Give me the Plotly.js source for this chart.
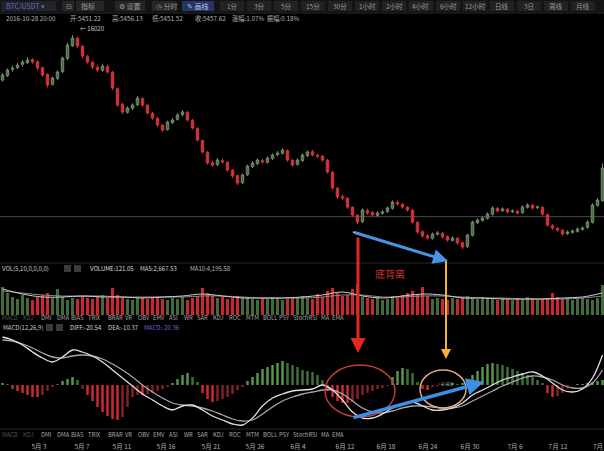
<!DOCTYPE html>
<html><head><meta charset="utf-8">
<script src="https://cdn.plot.ly/plotly-3.0.1.min.js"></script>
<style>html,body{margin:0;padding:0;background:#000;}#chart{width:604px;height:451px;}</style>
</head><body><div id="chart"></div>
<script>
// ---------- data ----------
const openP=[6020,6046,6084,6094,6114,6124,6142,6130,6094,6054,
5994,6030,6070,6150,6226,6270,6222,6160,6126,6096,
6078,6100,6066,5968,5874,5826,5850,5872,5908,5868,
5820,5790,5748,5722,5764,5784,5812,5826,5778,5730,
5656,5586,5524,5512,5536,5526,5478,5446,5404,5452,
5500,5518,5536,5526,5548,5572,5580,5596,5538,5514,
5536,5566,5590,5568,5562,5538,5466,5370,5320,5310,
5256,5208,5170,5236,5224,5208,5220,5230,5250,5286,
5274,5256,5238,5166,5110,5086,5070,5094,5100,5080,
5058,5070,5044,5020,5088,5164,5178,5190,5214,5250,
5236,5244,5230,5232,5224,5256,5268,5254,5256,5212,
5146,5130,5118,5098,5106,5112,5124,5136,5166,5268,
5296];
const closeP=[6050,6080,6092,6110,6128,6140,6128,6092,6050,5990,
6032,6068,6152,6230,6272,6224,6164,6128,6098,6080,
6104,6068,5972,5870,5828,5852,5870,5912,5870,5822,
5792,5750,5720,5768,5780,5810,5828,5780,5732,5660,
5588,5522,5510,5540,5528,5480,5444,5402,5450,5504,
5522,5540,5528,5552,5570,5582,5600,5540,5510,5540,
5570,5588,5570,5564,5540,5468,5372,5318,5312,5258,
5210,5168,5240,5222,5210,5222,5228,5252,5288,5276,
5258,5240,5168,5108,5084,5072,5096,5102,5078,5060,
5072,5042,5018,5090,5168,5180,5192,5216,5252,5234,
5246,5228,5234,5222,5258,5270,5252,5258,5216,5150,
5132,5120,5096,5108,5114,5126,5132,5168,5270,5300,
5492];
const highP=[6062,6090,6106,6122,6140,6158,6150,6138,6100,6060,
6040,6078,6160,6244,6290,6280,6230,6170,6134,6110,
6118,6112,6074,5976,5884,5862,5880,5924,5916,5876,
5830,5798,5756,5776,5792,5822,5840,5834,5786,5736,
5662,5594,5536,5552,5548,5532,5486,5452,5460,5512,
5534,5550,5546,5562,5580,5594,5612,5604,5546,5550,
5580,5598,5600,5578,5570,5546,5474,5378,5332,5318,
5262,5214,5250,5248,5234,5232,5240,5262,5298,5296,
5282,5264,5246,5172,5118,5096,5106,5114,5108,5088,
5082,5078,5050,5098,5176,5190,5202,5226,5262,5258,
5256,5252,5244,5240,5268,5280,5276,5268,5262,5218,
5156,5138,5126,5118,5124,5136,5142,5178,5280,5312,
5520];
const lowP=[6010,6038,6070,6086,6100,6116,6118,6080,6040,5975,
5986,6020,6062,6140,6218,6212,6150,6118,6086,6066,
6070,6060,5960,5858,5816,5818,5840,5862,5860,5812,
5782,5740,5708,5716,5756,5776,5800,5772,5724,5650,
5578,5512,5498,5504,5518,5470,5432,5390,5396,5444,
5492,5508,5518,5518,5540,5562,5572,5530,5500,5506,
5528,5558,5562,5552,5530,5458,5362,5306,5300,5248,
5198,5156,5162,5212,5200,5198,5212,5222,5242,5266,
5248,5230,5158,5098,5074,5062,5062,5086,5068,5050,
5050,5032,5006,5012,5080,5156,5170,5182,5206,5226,
5228,5220,5222,5214,5216,5248,5244,5246,5206,5140,
5122,5110,5086,5090,5098,5104,5116,5128,5158,5260,
5288];
const volume=[28,22,18,16,20,17,15,18,20,22,
17,26,18,15,17,16,19,17,16,18,
20,17,27,20,18,16,15,17,18,16,
17,18,16,15,17,16,18,15,17,19,
27,22,19,17,18,16,17,19,18,17,
16,15,17,16,18,17,15,16,17,18,
19,17,16,21,18,24,27,22,19,20,
26,31,18,17,16,18,15,16,19,17,
20,22,24,20,28,19,16,17,16,15,
17,16,18,19,17,16,18,17,16,15,
17,16,15,17,16,18,17,15,16,17,
22,18,16,17,15,16,17,16,15,17,
30];
const volMA5=[26,21,18,18,19,18,18,17,18,19,21,19,17,17,17,18,20,23,19,17,19,21,20,17,17,16,16,16,17,18,22];
const volMA10=[24,22,20,19,19,19,18,18,18,18,19,19,18,17,17,17,18,20,20,18,18,19,19,18,17,17,16,16,16,17,19];
const macdHist=[2,1,-4,-6,-8,-10,-12,-12,-10,-6,
-2,1,4,6,8,5,-4,-10,-16,-22,
-27,-31,-34,-35,-32,-22,-12,-10,-10,-9,
-8,-6,-4,-2,2,6,10,12,8,3,
-8,-14,-17,-16,-14,-12,-9,-5,-2,4,
8,12,16,18,20,22,24,22,20,18,
15,14,13,10,5,-6,-12,-16,-18,-18,
-17,-14,-10,-8,-6,-4,-3,-1,8,14,
17,16,12,3,-4,-5,-2,-1,1,1,
2,1,2,6,10,14,18,21,22,21,
20,18,16,14,12,10,8,5,2,-8,
-12,-11,-8,-4,0,1,1,2,3,4,
5];
const dif=[48,45,40,33,27,23,28,35,33,29,
23,15,7,-1,-9,-15,-21,-25,-21,-20,
-25,-31,-35,-39,-40,-33,-21,-13,-9,-6,
-5,-4,0,-5,-15,-27,-33,-33,-29,-23,
-19,-17,-21,-25,-25,-23,-18,-10,-5,0,
5,8,11,13,9,2,-5,-7,-4,7,
30];
const dea=[45,44,41,37,32,28,27,29,30,29,
26,21,15,8,0,-7,-13,-18,-20,-21,
-23,-26,-30,-34,-36,-35,-29,-22,-16,-12,
-9,-7,-5,-5,-9,-16,-23,-27,-28,-26,
-23,-21,-21,-22,-23,-23,-21,-16,-11,-6,
-1,3,7,9,8,5,0,-3,-3,2,
15];
const dateTickPos=[7.3,15.9,23.9,32.7,41.7,50.5,59.1,68.5,76.7,85.1,93.5,102.5,111.1,119.1];
const dateTickText=["5月 3","5月 7","5月 11","5月 16","5月 21","5月 26","6月 4","6月 12","6月 18","6月 24","6月 30","7月 6","7月 12","7月"];
const tabLabels=["MACD","KDJ","DMI","DMA","BIAS","TRIX","BRAR","VR","OBV","EMV","ASI","WR","SAR","KDJ","ROC","MTM","BOLL","PSY","StochRSI","MA","EMA"];
const periodLabels=["1分","3分","5分","15分","30分","1小时","2小时","4小时","6小时","12小时","日线","3日","周线","月线"];
const infoTexts=["2016-10-28 20:00","开:5451.22","高:5456.13","低:5451.52","收:5457.62","涨幅:1.07%","振幅:0.18%"];

// ---------- derived ----------
const idx=openP.map((_,i)=>i);
const idxMA=volMA5.map((_,i)=>i*4);
const idxMacd=dif.map((_,i)=>i*2);
const volColors=idx.map(i=>closeP[i]>=openP[i]?'#45683f':'#c62a2e');
const histColors=macdHist.map((v,i)=>{
  const prev=i>0?Math.abs(macdHist[i-1]):0;
  const shrinking=Math.abs(v)<prev;
  if(v>=0) return shrinking?'#3f6e3a':'#56944c';
  return shrinking?'#7e2226':'#cc2a2e';
});

const FONT="Noto Sans CJK SC, Noto Sans, sans-serif";
const W=604,H=451;
const px=x=>x/W, py=y=>1-y/H;

const traces=[
 {type:'candlestick',x:idx,open:openP,high:highP,low:lowP,close:closeP,xaxis:'x',yaxis:'y',
  increasing:{line:{color:'#6f8c6a',width:1},fillcolor:'#4d6d49'},
  decreasing:{line:{color:'#d2333a',width:1},fillcolor:'#d2333a'},
  whiskerwidth:0,hoverinfo:'skip'},
 {type:'bar',x:idx,y:volume,xaxis:'x',yaxis:'y2',marker:{color:volColors},width:0.62,hoverinfo:'skip'},
 {type:'scatter',mode:'lines',x:idxMA,y:volMA10,xaxis:'x',yaxis:'y2',line:{color:'#8a8a8a',width:1,shape:'spline'},hoverinfo:'skip'},
 {type:'scatter',mode:'lines',x:idxMA,y:volMA5,xaxis:'x',yaxis:'y2',line:{color:'#cfcfcf',width:1,shape:'spline'},hoverinfo:'skip'},
 {type:'bar',x:idx,y:macdHist,xaxis:'x',yaxis:'y3',marker:{color:histColors},width:0.5,hoverinfo:'skip'},
 {type:'scatter',mode:'lines',x:idxMacd,y:dea,xaxis:'x',yaxis:'y3',line:{color:'#a8a8a8',width:1.3,shape:'spline'},hoverinfo:'skip'},
 {type:'scatter',mode:'lines',x:idxMacd,y:dif,xaxis:'x',yaxis:'y3',line:{color:'#e0e0e0',width:1.3,shape:'spline'},hoverinfo:'skip'}
];

const ann=[];
function T(x,y,text,size,color,xa){ann.push({xref:'paper',yref:'paper',x:px(x),y:py(y),text:text,showarrow:false,xanchor:xa||'left',yanchor:'middle',font:{family:FONT,size:size,color:color}});}
function A(x0,y0,x1,y1,color,w,head){ann.push({xref:'paper',yref:'paper',x:px(x1),y:py(y1),ax:x0-x1,ay:y0-y1,text:'',showarrow:true,arrowhead:head||2,arrowsize:1,arrowwidth:w,arrowcolor:color,standoff:0,startstandoff:0});}

const shapes=[];
function R(x0,y0,x1,y1,fill){shapes.push({type:'rect',xref:'paper',yref:'paper',x0:px(x0),x1:px(x1),y0:py(y1),y1:py(y0),fillcolor:fill,line:{width:0},layer:'below'});}
function L(x0,y0,x1,y1,color,w){shapes.push({type:'line',xref:'paper',yref:'paper',x0:px(x0),x1:px(x1),y0:py(y0),y1:py(y1),line:{color:color,width:w}});}

// toolbar
R(0,0,604,12,'#141414');
R(1,1,56,11,'#22222a');
R(62,1,74,11,'#262626');R(76,1,104,11,'#262626');
R(115,1,145,11,'#262626');R(152,1,176,11,'#262626');
R(182,1,214,11,'#263566');
T(4,6,"BTC/USDT ▾",7,'#5b6fc4');
T(64,6,"⊟",7,'#888');T(79,6,"指标",7,'#999');
T(117,6,"⚙ 设置",7,'#999');T(154,6,"◷ 分时",7,'#999');
T(185,6,"✎ 画线",7,'#b8c4ee');
periodLabels.forEach((p,i)=>{R(220+i*27,1,244+i*27,11,'#222');T(232+i*27,6,p,6.5,'#999','center');});
L(0,13,604,13,'#2e2e2e',1);
// info row
const infoX=[4,68,110,150,193,230,265];
infoTexts.forEach((t,i)=>T(infoX[i],18.5,t,6.3,'#b4b4b4'));
T(78,28,"← 16020",6,'#cfcfcf');

// separators
L(0,263,604,263,'#2a2a2a',1);
L(0,429,604,429,'#2a2a2a',1);

// volume info
T(0,268,"VOL(5,10,0,0,0,0)",6,'#c8c8c8');
R(64,265,71,272,'#3a3a3a');R(74,265,81,272,'#3a3a3a');
T(88,268,"VOLUME:121.05",6,'#dcdcdc');
T(138,268,"MA5:2,667.53",6,'#cfcfcf');
T(188,268,"MA10:4,195.58",6,'#b8b8b8');

// tab rows
const tabX=[0,21,39,55,69,86,106,123,136,151,167,182,195,211,227,244,261,277,291,319,330];
tabLabels.forEach((t,i)=>{const c=i<2?'#555':'#a8a8a8';T(tabX[i],317,t,5.8,c);T(tabX[i],434.5,t,5.8,c);});

// macd info
T(1,327.5,"MACD(12,26,9)",6,'#c8c8c8');
R(46,324,53,331,'#3a3a3a');R(56,324,63,331,'#3a3a3a');
T(68,327.5,"DIFF:-20.54",6,'#dcdcdc');
T(106,327.5,"DEA:-10.37",6,'#cfcfcf');
T(142,327.5,"MACD:-20.36",6,'#6a6acb');

// markup: ellipses
shapes.push({type:'circle',xref:'paper',yref:'paper',x0:px(325),x1:px(395),y0:py(417),y1:py(365),line:{color:'#c23c36',width:1.5}});
shapes.push({type:'circle',xref:'paper',yref:'paper',x0:px(420),x1:px(466),y0:py(408),y1:py(370),line:{color:'#e0aa82',width:1.5}});
T(436,384,"= 0.000",4.5,'#9a9a9a');

// arrows
A(358,236,358,353,'#e0281f',3,2);
A(446,258,446,359,'#f2b233',2,2);
A(353,232,448,261,'#4a92e4',3,2);
L(353,232,392,244,'#c9d3de',1.5);
A(352,418,484,382,'#3d8fe6',3.5,2);
T(390,273,"底背离",10,'#cc3030','center');

const layout={
 width:W,height:H,margin:{l:0,r:0,t:0,b:0},
 paper_bgcolor:'#000',plot_bgcolor:'#000',
 showlegend:false,hovermode:false,barmode:'overlay',
 xaxis:{range:[-0.5,120.3],anchor:'y3',showgrid:false,zeroline:false,showline:false,ticks:'',
   tickmode:'array',tickvals:dateTickPos,ticktext:dateTickText,
   tickfont:{family:FONT,size:6.5,color:'#b0b0b0'},ticklabelstandoff:13,
   rangeslider:{visible:false},automargin:false,fixedrange:true},
 yaxis:{domain:[1-252/451,1-30/451],range:[4988,6320],visible:false,fixedrange:true},
 yaxis2:{domain:[1-315/451,1-279/451],range:[0,36],visible:false,fixedrange:true},
 yaxis3:{domain:[1-428/451,1-335/451],range:[-43,50],visible:false,fixedrange:true},
 shapes:[...shapes,
   {type:'line',xref:'paper',yref:'y',x0:0,x1:1,y0:5200,y1:5200,line:{color:'#4a4a4a',width:1},layer:'below'}],
 annotations:ann
};
Plotly.newPlot('chart',traces,layout,{displayModeBar:false,staticPlot:true});
</script>
</body></html>
